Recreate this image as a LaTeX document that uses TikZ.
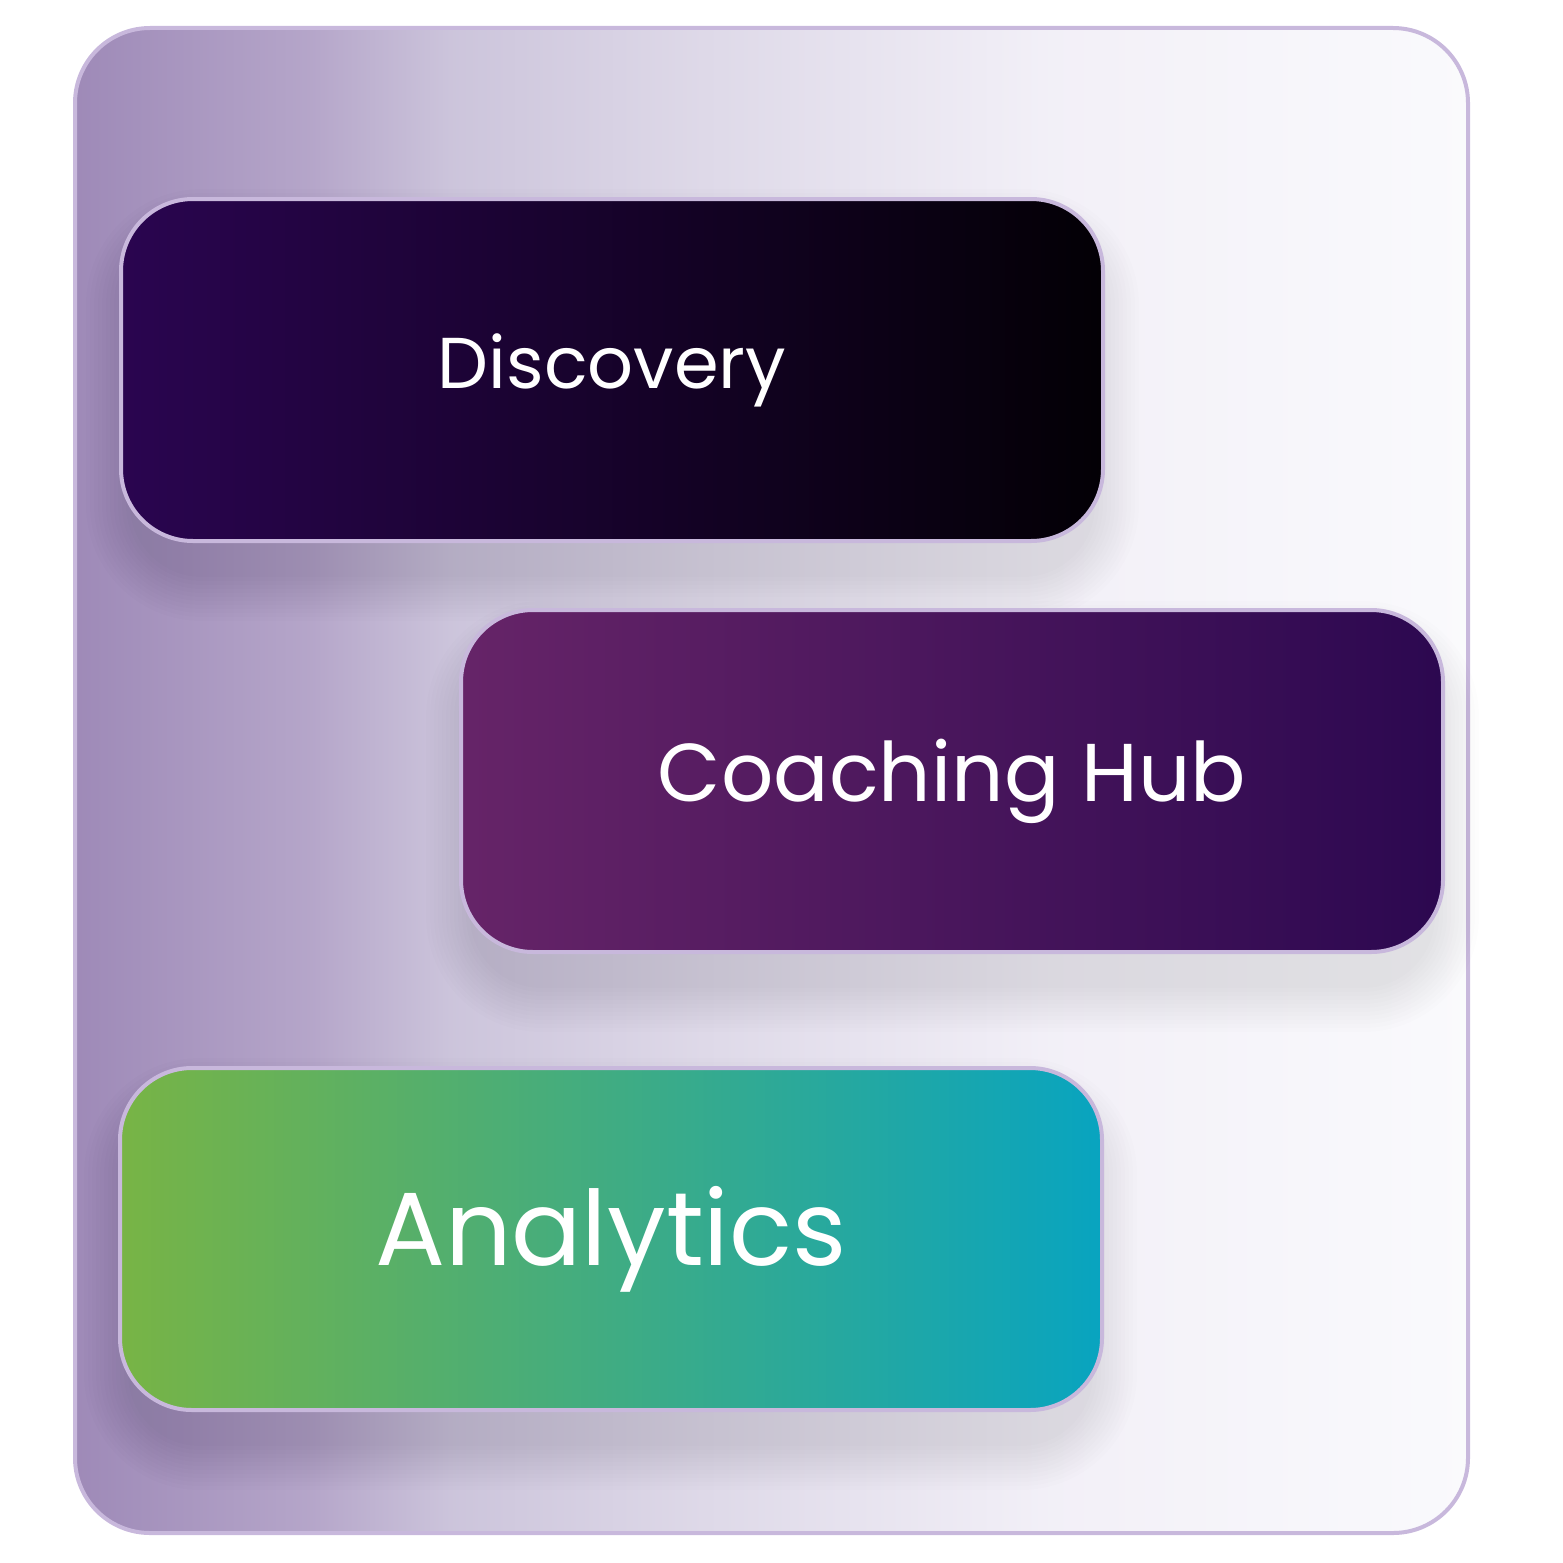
\documentclass[tikz,border=0pt]{standalone}
\usepackage{fontspec}
\setmainfont{Poppins}
\definecolor{rim}{HTML}{C8B8DC}
\definecolor{dL}{HTML}{2A0550}
\definecolor{dR}{HTML}{030005}
\definecolor{cL}{HTML}{662468}
\definecolor{cR}{HTML}{2C0850}
\definecolor{aL}{HTML}{78B445}
\definecolor{aR}{HTML}{08A4C0}
\pgfdeclarehorizontalshading{outershade}{100bp}{
  rgb(0bp)=(0.62,0.54,0.72);
  rgb(25bp)=(0.62,0.54,0.72);
  rgb(33.5bp)=(0.71,0.65,0.79);
  rgb(38.5bp)=(0.80,0.77,0.86);
  rgb(47.5bp)=(0.87,0.85,0.91);
  rgb(60bp)=(0.95,0.94,0.97);
  rgb(75bp)=(0.98,0.98,0.99);
  rgb(100bp)=(0.98,0.98,0.99)}
\tikzset{
  card/.style={draw=rim, line width=4pt, rounded corners=72pt, minimum width=982pt, minimum height=342pt, text=white, inner sep=0pt},
  shadowbox/.style={fill=black, fill opacity=0.009, rounded corners=#1}
}
\newcommand{\softshadow}[4]{% x1 y1 x2 y2
  \foreach \k in {0,4,...,44}{
    \fill[shadowbox=72pt+\k pt] ({#1-\k+10},{#2-\k+35}) rectangle ({#3+\k-10},{#4+\k+35});
  }}
\begin{document}
\begin{tikzpicture}[x=1pt,y=-1pt]
\useasboundingbox (0,0) rectangle (1563,1563);
\shade[shading=outershade, rounded corners=75pt] (75,28) rectangle (1468,1533);
\draw[rim, line width=4pt, rounded corners=75pt] (75,28) rectangle (1468,1533);
\softshadow{120}{198}{1105}{542}
\softshadow{460}{610}{1445}{953}
\softshadow{118}{1067}{1103}{1411}
\node[card, left color=dL, right color=dR] (disc) at (612,370) {\fontsize{72pt}{90pt}\selectfont Discovery};
\node[card, left color=cL, right color=cR] (coach) at (952,781) {\fontsize{82pt}{100pt}\selectfont Coaching Hub};
\node[card, left color=aL, right color=aR] (anal) at (611,1239) {\fontsize{104pt}{120pt}\selectfont Analytics};
\end{tikzpicture}
\end{document}
